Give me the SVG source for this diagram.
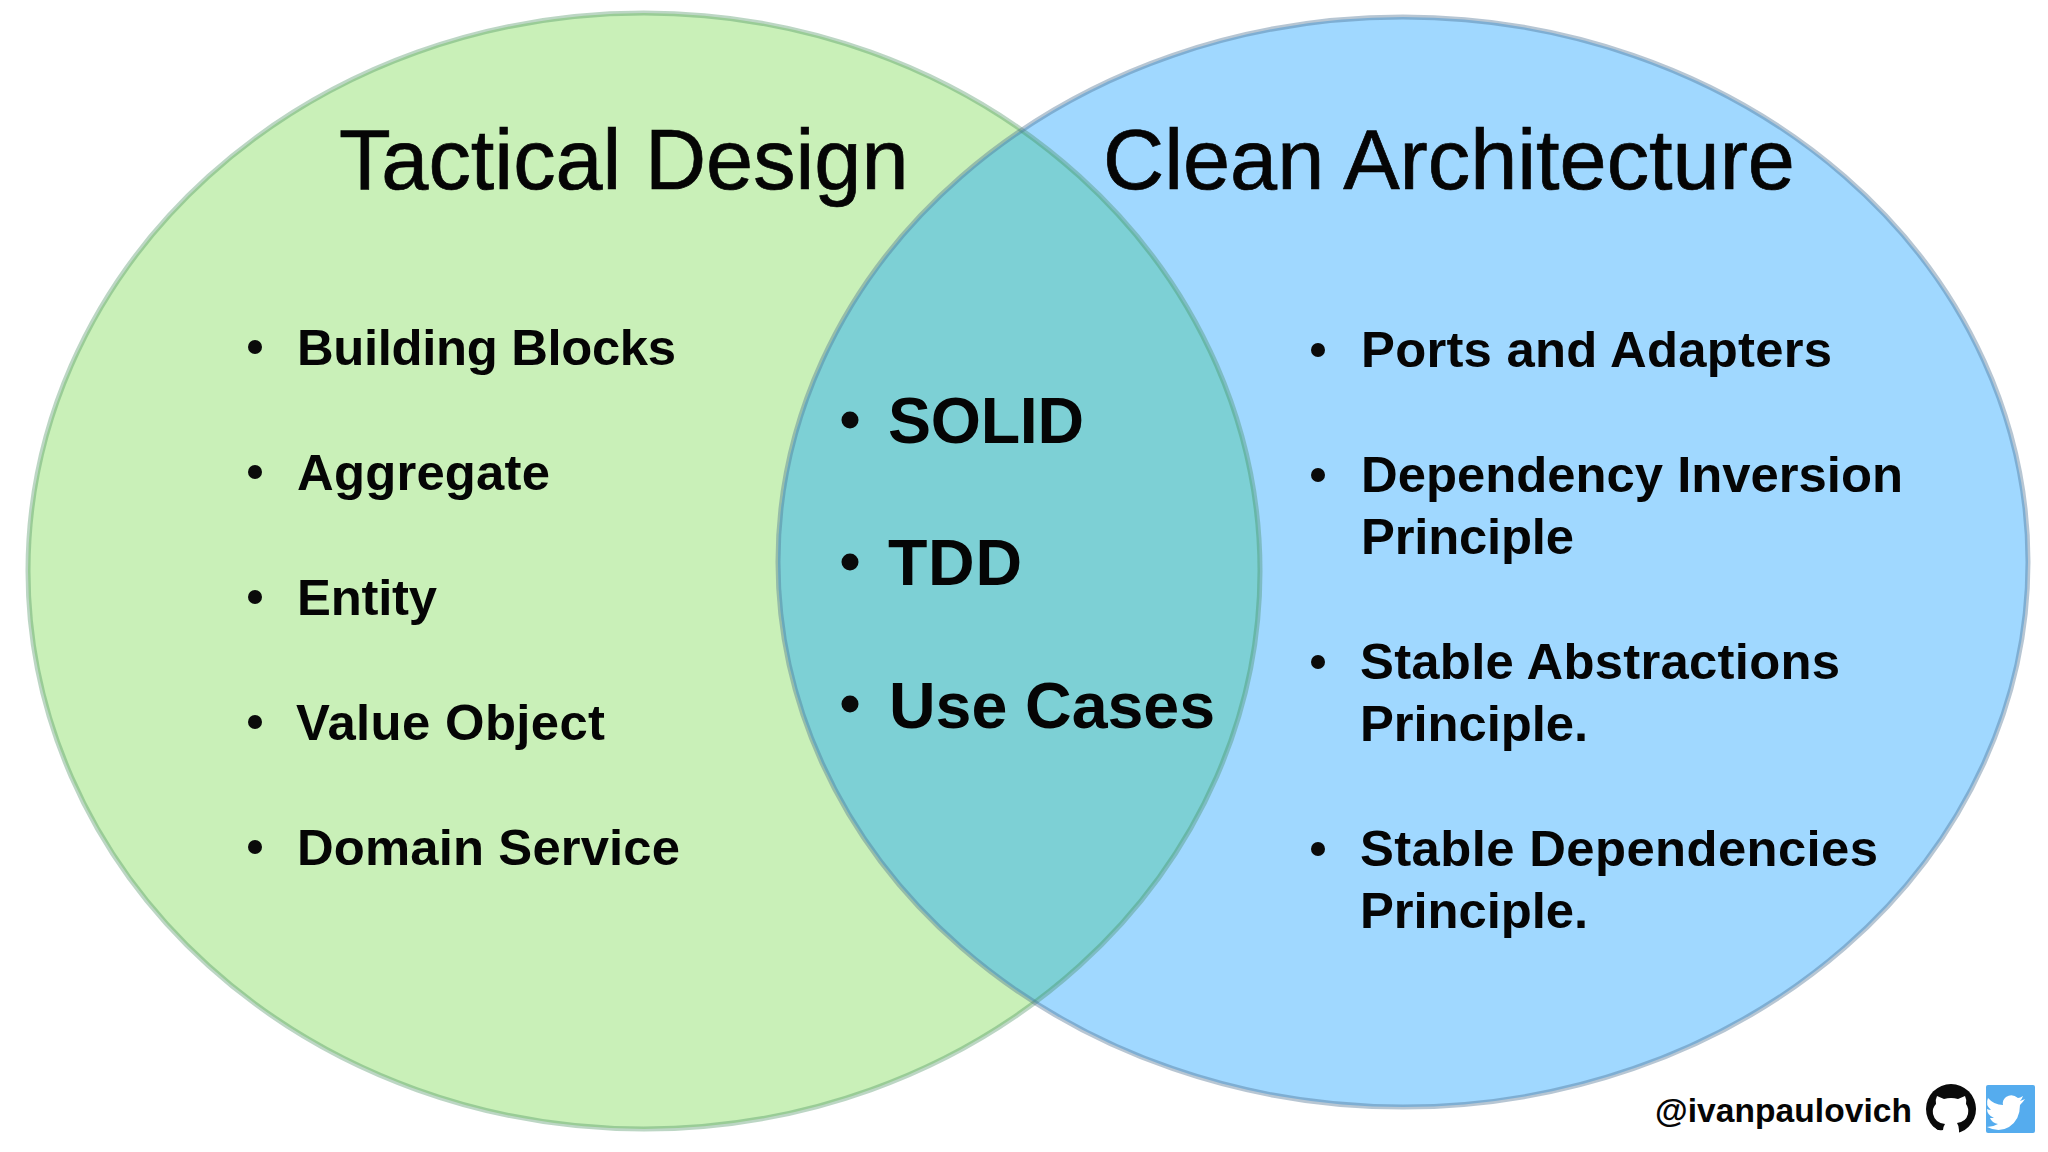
<svg xmlns="http://www.w3.org/2000/svg" width="2048" height="1152" viewBox="0 0 2048 1152">
<style>
text{font-family:"Liberation Sans",Arial,sans-serif;fill:#050505}
.t{font-size:84.7px;stroke:#050505;stroke-width:.7px}
.l{font-size:50.8px;font-weight:bold}
.m{font-size:64.5px;font-weight:bold}
.h{font-size:33.5px;font-weight:bold}
.d{fill:#0a0a0a}
</style>
<defs>
<clipPath id="c"><ellipse cx="1403" cy="562" rx="625" ry="545"/></clipPath>
</defs>
<rect width="2048" height="1152" fill="#fff"/>
<g id="tactical-design">
<ellipse cx="644" cy="571" rx="616" ry="558" fill="#c9f0b8"/>
<text class="t" x="339" y="189">Tactical Design</text>
</g>
<g id="clean-architecture">
<ellipse cx="1403" cy="562" rx="625" ry="545" fill="#a0d8ff"/>
<ellipse cx="644" cy="571" rx="616" ry="558" fill="#7dd0d5" clip-path="url(#c)"/>
<ellipse cx="644" cy="571" rx="616" ry="558" fill="none" stroke="#3f8a55" stroke-opacity=".35" stroke-width="5"/>
<ellipse cx="1403" cy="562" rx="625" ry="545" fill="none" stroke="#4a7090" stroke-opacity=".4" stroke-width="5"/>
<text class="t" x="1103" y="189">Clean Architecture</text>
</g>
<g id="tactical-list">
<circle class="d" cx="255" cy="347" r="7"/><text class="l" x="297" y="365" textLength="379">Building Blocks</text>
<circle class="d" cx="255" cy="472" r="7"/><text class="l" x="297" y="490" textLength="253">Aggregate</text>
<circle class="d" cx="255" cy="597" r="7"/><text class="l" x="297" y="615" textLength="140">Entity</text>
<circle class="d" cx="255" cy="722" r="7"/><text class="l" x="296" y="740" textLength="309">Value Object</text>
<circle class="d" cx="255" cy="847" r="7"/><text class="l" x="297" y="865" textLength="383">Domain Service</text>
</g>
<g id="shared-list">
<circle class="d" cx="850" cy="420" r="8.5"/><text class="m" x="888" y="443" textLength="196">SOLID</text>
<circle class="d" cx="850" cy="562" r="8.5"/><text class="m" x="888" y="585" textLength="134">TDD</text>
<circle class="d" cx="850" cy="704" r="8.5"/><text class="m" x="889" y="728" textLength="326">Use Cases</text>
</g>
<g id="clean-list">
<circle class="d" cx="1318" cy="350" r="7"/><text class="l" x="1361" y="367" textLength="471">Ports and Adapters</text>
<circle class="d" cx="1318" cy="475" r="7"/><text class="l" x="1361" y="492" textLength="542">Dependency Inversion</text><text class="l" x="1361" y="554" textLength="213">Principle</text>
<circle class="d" cx="1318" cy="662" r="7"/><text class="l" x="1360" y="679" textLength="480">Stable Abstractions</text><text class="l" x="1360" y="741" textLength="228">Principle.</text>
<circle class="d" cx="1318" cy="849" r="7"/><text class="l" x="1360" y="866" textLength="518">Stable Dependencies</text><text class="l" x="1360" y="928" textLength="228">Principle.</text>
</g>
<g id="credit">
<text class="h" x="1655" y="1122" textLength="257">@ivanpaulovich</text>
<circle class="d" cx="1951" cy="1109" r="25"/>
<path d="M1937 1096l7 3q7-2 14 0l7-3q2 4 1 8q3 4 2 10q-2 8-11 9q2 3 2 7v9l-3 1h-10l-3-1v-5q-6 1-9-3q-2-4-6-6q4 0 7 3q2 3 8 2q0-3 2-6q-10-1-12-10q-1-6 3-10q-1-4 1-8z" fill="#fff"/>
<rect x="1986" y="1085" width="49" height="48" rx="2" fill="#55acee"/>
<path d="M2025 1099q-2 1-5 2q2-2 3-5q-3 2-5 2q-6-5-12-1q-4 3-3 8q-9 0-15-7q-3 7 3 12q-2 0-4-1q0 6 7 9h-4q2 5 8 6q-5 3-11 3q12 6 22 0q11-7 11-22q3-3 5-6z" fill="#fff"/>
</g>
</svg>
